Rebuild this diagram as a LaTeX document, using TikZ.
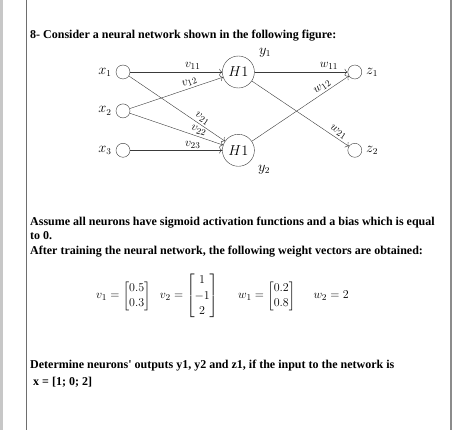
\documentclass[tikz,border=0pt]{standalone}
\usepackage[no-math]{fontspec}
\setmainfont{Liberation Serif}[Ligatures=TeXOff]
\usepackage{amsmath}
\usetikzlibrary{arrows.meta, positioning}
\definecolor{ink}{HTML}{3A3A3A}
\definecolor{rule}{HTML}{6E6E6E}
\tikzset{
  inp/.style  = {circle, draw=ink, minimum size=14pt, inner sep=0pt},
  hid/.style  = {circle, draw=ink, minimum size=32pt, inner sep=0pt,
                 font=\fontsize{14}{16}\selectfont},
  lbl/.style  = {font=\fontsize{13.5}{16}\selectfont, inner sep=1pt},
  conn/.style = {-{To[length=3pt]}, draw=ink},
  wt/.style   = {font=\fontsize{12.5}{15}\selectfont, sloped, above,
                 inner sep=2pt},
  para/.style = {font=\fontsize{12}{14}\selectfont\bfseries,
                 anchor=base west, inner sep=0pt},
  eqn/.style  = {font=\fontsize{13}{15.6}\selectfont, inner sep=0pt},
}

\begin{document}
\begin{tikzpicture}[x=1pt, y=-1pt]

  \useasboundingbox (0,0) rectangle (474,430);
  \fill[black!22] (0,0) rectangle (3,430);
  \draw[rule, line width=0.9pt] (26,0) -- (26,430);
  \draw[black!45, line width=1.2pt] (451,0) -- (451,430);

  \node[para] (q)  at (30,39)  {8- Consider a neural network shown in the following figure:};

  % network
  \node[inp]                    (x1) at (123,72) {};
  \node[inp, below=24.5pt of x1] (x2) {};
  \node[inp, below=25pt of x2]  (x3) {};
  \node[hid, right=92pt of x1]  (h1) {$H1$};
  \node[hid, right=92pt of x3]  (h2) {$H1$};
  \node[inp, right=93pt of h1]  (z1) {};
  \node[inp, right=93pt of h2]  (z2) {};

  \node[lbl, left=3pt of x1] (lx1) {$x_1$};
  \node[lbl, left=3pt of x2] (lx2) {$x_2$};
  \node[lbl, left=3pt of x3] (lx3) {$x_3$};
  \node[lbl, right=3pt of z1] (lz1) {$z_1$};
  \node[lbl, right=3pt of z2] (lz2) {$z_2$};
  \node[lbl, above right=2pt and 8pt of h1] (ly1) {$y_1$};
  \node[lbl, below right=2pt and 7pt of h2] (ly2) {$y_2$};

  \draw[conn] (x1) -- node[wt, pos=0.68]{$v_{11}$} (h1);
  \draw[conn] (x2) -- node[wt, pos=0.66]{$v_{12}$} (h1);
  \draw[conn] (x1) -- node[wt, pos=0.73]{$v_{21}$} (h2);
  \draw[conn] (x2) -- node[wt, pos=0.72]{$v_{22}$} (h2);
  \draw[conn] (x3) -- node[wt, pos=0.68]{$v_{23}$} (h2);
  \draw[conn] (h1) -- node[wt, pos=0.80]{$w_{11}$} (z1);
  \draw[conn] (h2) -- node[wt, pos=0.76]{$w_{12}$} (z1);
  \draw[conn] (h1) -- node[wt, pos=0.86]{$w_{21}$} (z2);

  % text below
  \node[para] (a1) at (30,226) {Assume all neurons have sigmoid activation functions and a bias which is equal};
  \node[para] (a2) at (30,240) {to 0.};
  \node[para] (a3) at (30,255) {After training the neural network, the following weight vectors are obtained:};

  \node[eqn, anchor=west] (ev1) at (96,296)
    {$v_1 = \begin{bmatrix}0.5\\0.3\end{bmatrix}$};
  \node[eqn, right=9pt of ev1] (ev2)
    {$v_2 = \begin{bmatrix}1\\-1\\2\end{bmatrix}$};
  \node[eqn, right=20pt of ev2] (ew1)
    {$w_1 = \begin{bmatrix}0.2\\0.8\end{bmatrix}$};
  \node[eqn, right=18pt of ew1] (ew2) {$w_2 = 2$};

  \node[para] (d1) at (30,369) {Determine neurons' outputs y1, y2 and z1, if the input to the network is};
  \node[para] (d2) at (33,385) {x = [1; 0; 2]};

\end{tikzpicture}
\end{document}
